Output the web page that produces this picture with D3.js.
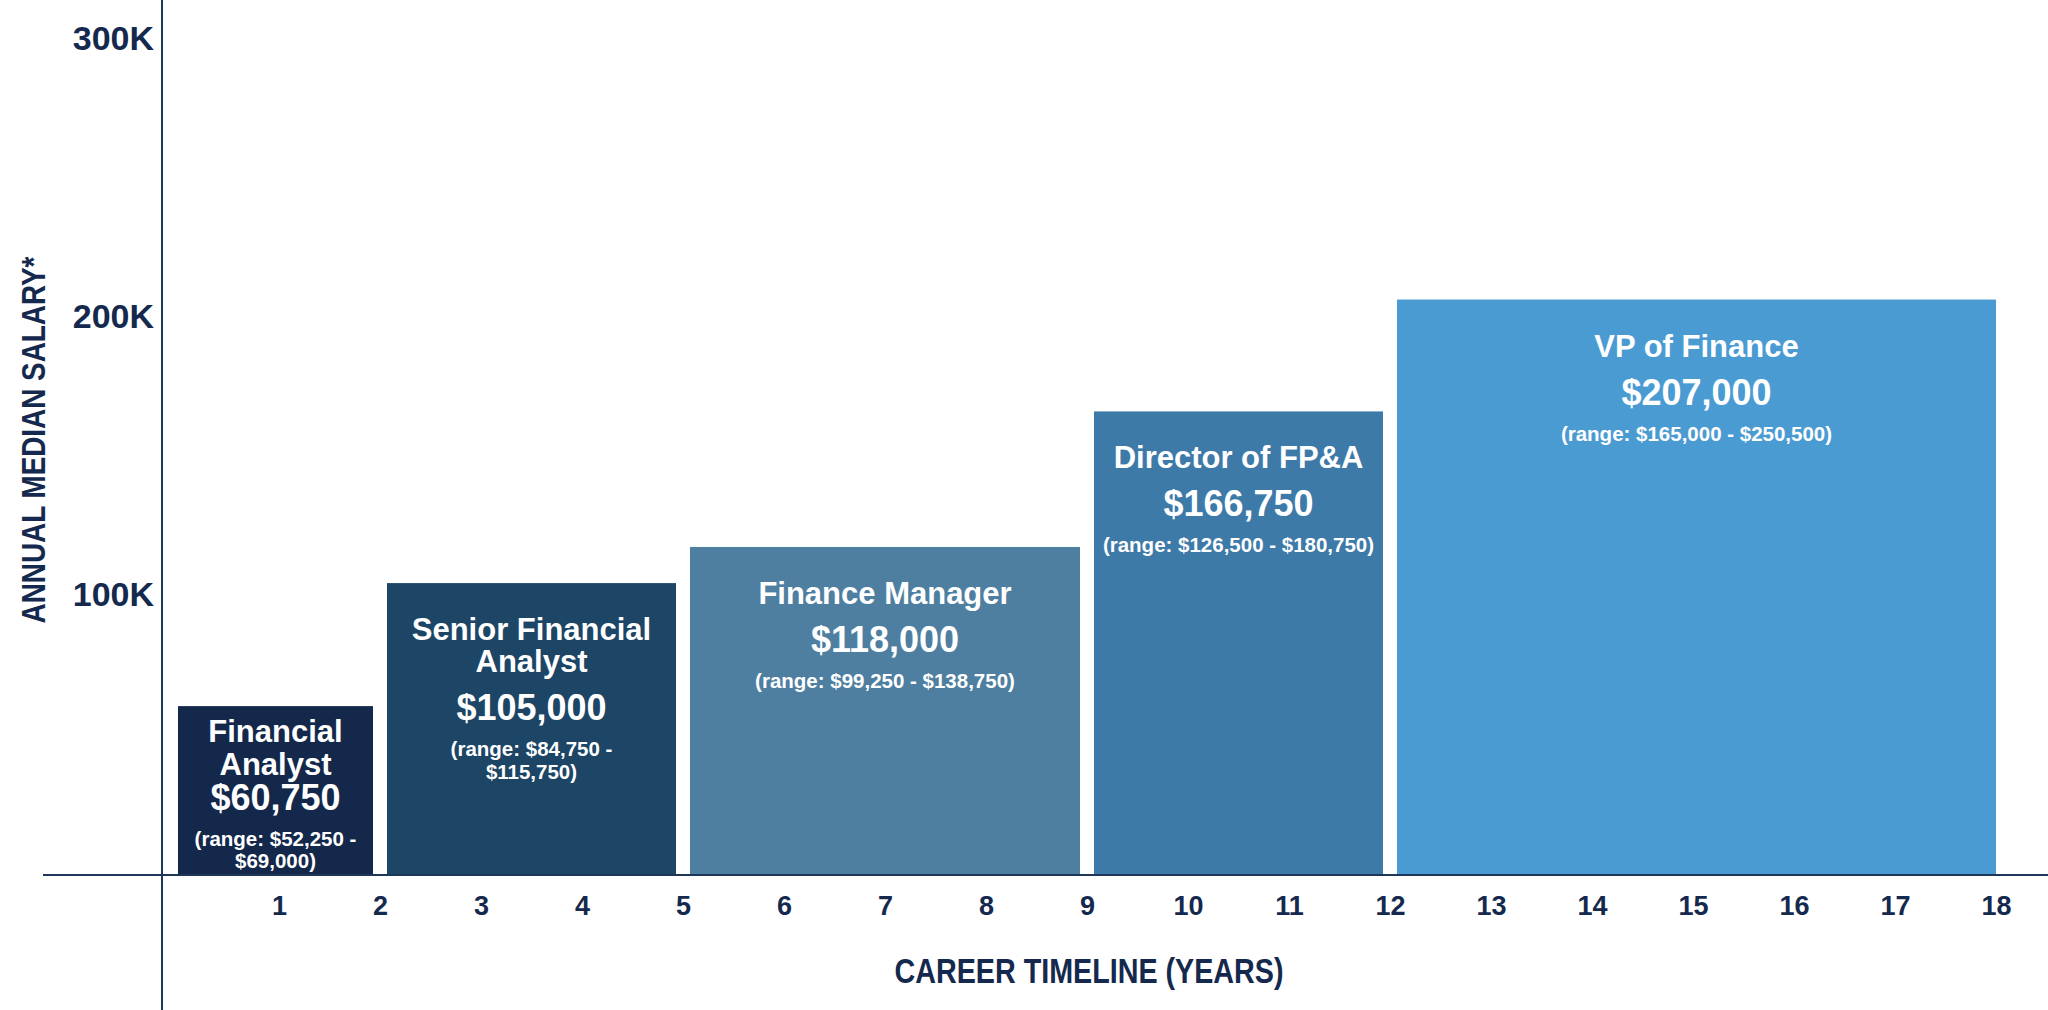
<!DOCTYPE html>
<html>
<head>
<meta charset="utf-8">
<script src="https://cdn.jsdelivr.net/npm/d3@7/dist/d3.min.js"></script>
<style>
  html, body { margin: 0; padding: 0; background: #ffffff; }
  svg { display: block; }
</style>
</head>
<body>
<svg id="chart" width="2048" height="1010"></svg>
<script>
// ---------- DATA ----------
const roleTitles = ["Financial Analyst", "Senior Financial Analyst", "Finance Manager", "Director of FP&A", "VP of Finance"];
const medianSalary = [60750, 105000, 118000, 166750, 207000];
const rangeLow = [52250, 84750, 99250, 126500, 165000];
const rangeHigh = [69000, 115750, 138750, 180750, 250500];
const rangeOnTwoLines = [true, true, false, false, false];
const startYear = [0, 2, 5, 9, 12];
const endYear = [2, 5, 9, 12, 18];
const barColors = ["#14284b", "#1c4566", "#4e7fa1", "#3d7aa8", "#4b9bd3"];
const xTickValues = [1, 2, 3, 4, 5, 6, 7, 8, 9, 10, 11, 12, 13, 14, 15, 16, 17, 18];
const yTickValues = [100000, 200000, 300000];
const yTickLabels = ["100K", "200K", "300K"];
const xAxisTitle = "CAREER TIMELINE (YEARS)";
const yAxisTitle = "ANNUAL MEDIAN SALARY*";

// ---------- SETUP ----------
const W = 2048, H = 1010;
const ink = "#14294d";
const axisColor = "#1e3759";
const FONT = "'Liberation Sans', Arial, sans-serif";

const svg = d3.select("#chart");
const x = d3.scaleLinear().domain([0, 18]).range([178, 1996]);
const y = d3.scaleLinear().domain([0, 300000]).range([875, 41]);
const fmt = v => "$" + d3.format(",")(v);

const bars = roleTitles.map((t, i) => ({
  title: t, median: medianSalary[i], lo: rangeLow[i], hi: rangeHigh[i],
  twoLines: rangeOnTwoLines[i],
  s: startYear[i], e: endYear[i], color: barColors[i]
}));

const inset = 7;
bars.forEach(b => {
  b.x0 = x(b.s) + (b.s > 0 ? inset : 0);
  b.x1 = x(b.e) - (b.e < 18 ? inset : 0);
  b.top = y(b.median);
  b.w = b.x1 - b.x0;
  b.cx = (b.x0 + b.x1) / 2;
});

// ---------- BARS ----------
svg.append("g").selectAll("rect").data(bars).join("rect")
  .attr("x", d => d.x0)
  .attr("y", d => d.top)
  .attr("width", d => d.w)
  .attr("height", d => y(0) - d.top)
  .attr("fill", d => d.color);

// ---------- AXES ----------
const xAxis = d3.axisBottom(x).tickValues(xTickValues).tickSize(0).tickPadding(0).tickFormat(d3.format("d"));
const gx = svg.append("g").attr("transform", `translate(0,${y(0)})`).call(xAxis);
gx.select(".domain").remove();
gx.selectAll("text")
  .attr("y", 40).attr("dy", null)
  .attr("fill", ink)
  .style("font-family", FONT).style("font-weight", "bold").style("font-size", "27px");

const yAxis = d3.axisLeft(y).tickValues(yTickValues).tickSize(0).tickPadding(0)
  .tickFormat((d, i) => yTickLabels[i]);
const gy = svg.append("g").attr("transform", `translate(154,0)`).call(yAxis);
gy.select(".domain").remove();
gy.selectAll("text")
  .attr("x", 0).attr("dy", "0.32em")
  .attr("transform", "translate(0,-2)")
  .attr("fill", ink)
  .style("font-family", FONT).style("font-weight", "bold").style("font-size", "34px");

// axis lines
svg.append("line").attr("x1", 43).attr("x2", W).attr("y1", y(0)).attr("y2", y(0))
  .attr("stroke", axisColor).attr("stroke-width", 2);
svg.append("line").attr("x1", 162).attr("x2", 162).attr("y1", 0).attr("y2", H)
  .attr("stroke", axisColor).attr("stroke-width", 2);

// axis titles (condensed via horizontal scale)
svg.append("text").attr("transform", "translate(1089,983) scale(0.82,1)").attr("text-anchor", "middle")
  .attr("fill", ink).style("font-family", FONT).style("font-weight", "bold").style("font-size", "35px")
  .text(xAxisTitle);
svg.append("text").attr("transform", "translate(45,440) rotate(-90) scale(0.82,1)").attr("text-anchor", "middle")
  .attr("fill", ink).style("font-family", FONT).style("font-weight", "bold").style("font-size", "34px")
  .text(yAxisTitle);

// ---------- LABELS ----------
const measurer = svg.append("text").style("font-family", FONT).style("font-weight", "bold");
function measure(str, size) {
  measurer.style("font-size", size + "px").text(str);
  return measurer.node().getComputedTextLength();
}
function wrapWords(str, size, maxW) {
  const words = str.split(" ");
  const lines = [];
  let cur = "";
  words.forEach(w => {
    const t = cur ? cur + " " + w : w;
    if (cur && measure(t, size) > maxW) { lines.push(cur); cur = w; } else cur = t;
  });
  if (cur) lines.push(cur);
  return lines;
}

const TITLE = 31, VALUE = 36, RANGE = 20.5;
const labelG = svg.append("g").attr("fill", "#ffffff").style("font-family", FONT).style("font-weight", "bold")
  .attr("text-anchor", "middle");

bars.forEach(b => {
  const maxW = b.w * 0.88;
  const compact = (y(0) - b.top) < 200;
  const sp = compact
    ? { first: 36, title: 33, value: 35, range: 36, rangeLine: 22 }
    : { first: 57, title: 32, value: 48, range: 36, rangeLine: 23 };
  const titleLines = wrapWords(b.title, TITLE, maxW);
  let yy = b.top + sp.first;
  titleLines.forEach((ln, i) => {
    if (i > 0) yy += sp.title;
    labelG.append("text").attr("x", b.cx).attr("y", yy).style("font-size", TITLE + "px").text(ln);
  });
  yy += sp.value;
  labelG.append("text").attr("x", b.cx).attr("y", yy).style("font-size", VALUE + "px").text(fmt(b.median));
  const rl = b.twoLines
    ? [`(range: ${fmt(b.lo)} -`, `${fmt(b.hi)})`]
    : [`(range: ${fmt(b.lo)} - ${fmt(b.hi)})`];
  yy += sp.range;
  rl.forEach((ln, i) => {
    if (i > 0) yy += sp.rangeLine;
    labelG.append("text").attr("x", b.cx).attr("y", yy).style("font-size", RANGE + "px").text(ln);
  });
});
measurer.remove();
</script>
</body>
</html>
